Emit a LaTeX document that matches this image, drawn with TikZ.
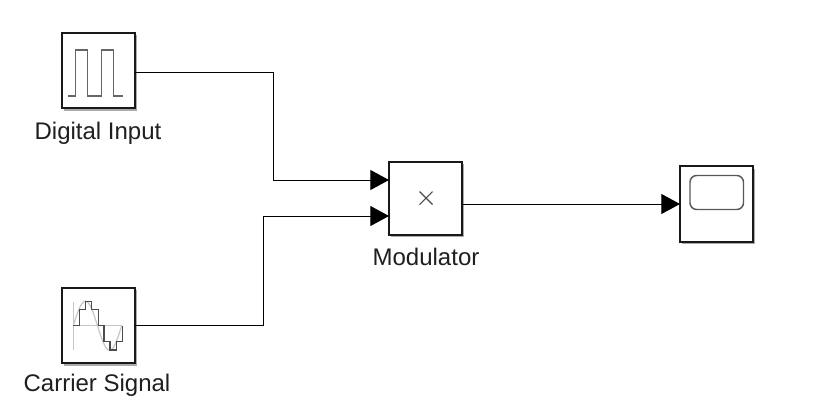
\documentclass[tikz,border=0pt]{standalone}
\usepackage{fontspec}
\setmainfont{Liberation Sans}
\usetikzlibrary{arrows.meta,shadows}
\tikzset{
  blockbox/.style={draw=black!90,line width=1.5pt,fill=white,inner sep=0pt,minimum width=54.5pt,minimum height=56.5pt,
    drop shadow={shadow xshift=1.8pt,shadow yshift=-1.8pt,fill=black!55,opacity=.6}},
  wire/.style={draw=black,line width=0.75pt,-{Triangle[length=14pt,width=15pt]}},
  lbl/.style={font=\fontsize{18}{21}\selectfont,text=black!88,inner sep=0pt},
  icon/.style={draw=black!60,line width=1.1pt},
  faint/.style={draw=black!22,line width=.9pt},
}
\begin{document}
\begin{tikzpicture}[x=0.75pt,y=-0.75pt]
\useasboundingbox (0,0) rectangle (815,408);
\fill[white] (0,0) rectangle (815,408);
\node[blockbox] (di) at (98.3,70.5) {};
\node[blockbox] (cs) at (98.3,325.5) {};
\node[blockbox,minimum height=55pt] (mod) at (425.3,198.2) {};
\node[blockbox] (sc) at (716.3,204) {};
% labels
\node[lbl] (dil) at (98,133.5) {Digital Input};
\node[lbl] (csl) at (97,385.5) {Carrier Signal};
\node[lbl] (modl) at (426,257) {Modulator};
% connector ends
\coordinate (a1) at (135,72);
\coordinate (a2) at (273,72);
\coordinate (a3) at (273,180);
\coordinate (a4) at (389,180);
\coordinate (b1) at (135,325);
\coordinate (b2) at (263,325);
\coordinate (b3) at (263,216);
\coordinate (b4) at (389,216);
\coordinate (c1) at (461.7,204);
\coordinate (c2) at (680,204);
\draw[wire] (a1) -- (a2) -- (a3) -- (a4);
\draw[wire] (b1) -- (b2) -- (b3) -- (b4);
\draw[wire] (c1) -- (c2);
% pulse icon
\draw[icon] (67.7,96) -- (75.7,96) -- (75.7,50) -- (87.3,50) -- (87.3,96) -- (101.7,96) -- (101.7,50) -- (113.3,50) -- (113.3,96) -- (123.3,96);
% carrier icon
\draw[faint] (73.3,301.7) -- (73.3,350);
\draw[faint] (73.3,325.7) -- (121.7,325.7);
\draw[faint] plot[domain=0:48.4,samples=60,smooth] ({73.3+\x},{325.7-24.5*sin(\x/48.4*360)});
\draw[icon,draw=black!70] (73.3,325.7) -- (79.3,325.7) -- (79.3,309.3) -- (85.7,309.3) -- (85.7,301.7) -- (91.7,301.7) -- (91.7,309.3) -- (98.3,309.3) -- (98.3,325.7) -- (104,325.7) -- (104,341.7) -- (110,341.7) -- (110,350) -- (116.7,350) -- (116.7,341.7) -- (122.3,341.7) -- (122.3,325.7);
% multiply
\draw[draw=black!70,line width=.8pt] (419.5,191.5) -- (432.5,204.5) (419.5,204.5) -- (432.5,191.5);
% scope screen
\draw[draw=black!65,line width=1.1pt,rounded corners=5pt] (690,175.5) rectangle (743.5,209.5);
\end{tikzpicture}
\end{document}
